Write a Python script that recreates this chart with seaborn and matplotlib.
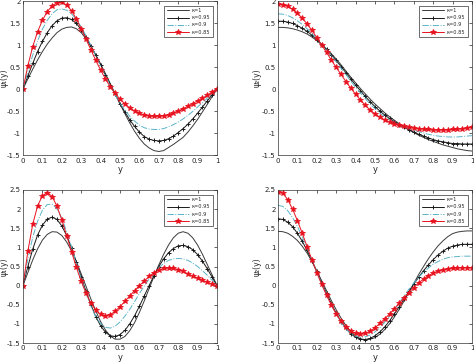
import matplotlib
matplotlib.use("Agg")
import matplotlib.pyplot as plt
import seaborn as sns
from matplotlib.ticker import FormatStrFormatter

# ---------------- data ----------------
Y_GRID = [0, 0.025, 0.05, 0.075, 0.1, 0.125, 0.15, 0.175, 0.2, 0.225,
          0.25, 0.275, 0.3, 0.325, 0.35, 0.375, 0.4, 0.425, 0.45, 0.475,
          0.5, 0.525, 0.55, 0.575, 0.6, 0.625, 0.65, 0.675, 0.7, 0.725,
          0.75, 0.775, 0.8, 0.825, 0.85, 0.875, 0.9, 0.925, 0.95, 0.975, 1]

KAPPA_LABELS = ["κ=1", "κ=0.95", "κ=0.9", "κ=0.85"]

# top-left: psi_1
tl_k100 = [0, 0.23, 0.45, 0.66, 0.85, 1.02, 1.16, 1.28, 1.36, 1.40,
           1.41, 1.37, 1.28, 1.14, 0.97, 0.78, 0.57, 0.35, 0.12, -0.11,
           -0.34, -0.56, -0.77, -0.96, -1.12, -1.25, -1.34, -1.40, -1.42, -1.40,
           -1.33, -1.26, -1.18, -1.10, -0.98, -0.84, -0.69, -0.52, -0.35, -0.17, 0]
tl_k095 = [0, 0.30, 0.58, 0.85, 1.08, 1.28, 1.44, 1.55, 1.61, 1.62,
           1.58, 1.49, 1.35, 1.18, 0.98, 0.77, 0.55, 0.32, 0.10, -0.12,
           -0.33, -0.52, -0.70, -0.85, -0.98, -1.08, -1.14, -1.17, -1.18, -1.17,
           -1.13, -1.07, -0.99, -0.90, -0.80, -0.68, -0.55, -0.41, -0.27, -0.13, 0]
tl_k090 = [0, 0.40, 0.77, 1.09, 1.36, 1.56, 1.71, 1.80, 1.82, 1.79,
           1.71, 1.58, 1.41, 1.21, 0.99, 0.76, 0.53, 0.30, 0.08, -0.13,
           -0.32, -0.48, -0.62, -0.73, -0.82, -0.88, -0.91, -0.92, -0.92, -0.90,
           -0.86, -0.81, -0.75, -0.68, -0.60, -0.51, -0.41, -0.31, -0.21, -0.10, 0]
tl_k085 = [0, 0.53, 0.96, 1.30, 1.56, 1.76, 1.89, 1.96, 1.97, 1.91,
           1.78, 1.59, 1.37, 1.13, 0.89, 0.65, 0.43, 0.23, 0.05, -0.10,
           -0.23, -0.34, -0.43, -0.50, -0.55, -0.59, -0.61, -0.62, -0.62, -0.61,
           -0.58, -0.54, -0.50, -0.45, -0.39, -0.33, -0.27, -0.21, -0.14, -0.07, 0]

# top-right: psi_2
tr_k100 = [1.40, 1.40, 1.39, 1.37, 1.34, 1.30, 1.25, 1.18, 1.10, 1.01,
           0.91, 0.80, 0.68, 0.55, 0.41, 0.27, 0.14, 0.01, -0.11, -0.23,
           -0.34, -0.44, -0.54, -0.63, -0.71, -0.79, -0.86, -0.93, -0.99, -1.05,
           -1.10, -1.15, -1.19, -1.23, -1.27, -1.30, -1.33, -1.36, -1.38, -1.40, -1.41]
tr_k095 = [1.54, 1.54, 1.52, 1.49, 1.44, 1.38, 1.31, 1.22, 1.12, 1.01,
           0.90, 0.78, 0.65, 0.51, 0.37, 0.23, 0.09, -0.04, -0.17, -0.29,
           -0.40, -0.50, -0.59, -0.67, -0.74, -0.81, -0.87, -0.93, -0.98, -1.03,
           -1.07, -1.11, -1.15, -1.18, -1.20, -1.22, -1.24, -1.24, -1.25, -1.25, -1.25]
tr_k090 = [1.71, 1.70, 1.67, 1.62, 1.55, 1.47, 1.37, 1.26, 1.14, 1.02,
           0.90, 0.76, 0.62, 0.47, 0.33, 0.18, 0.04, -0.09, -0.22, -0.34,
           -0.45, -0.55, -0.63, -0.70, -0.76, -0.81, -0.86, -0.90, -0.94, -0.97,
           -1.00, -1.03, -1.05, -1.07, -1.08, -1.09, -1.09, -1.09, -1.08, -1.07, -1.06]
tr_k085 = [1.93, 1.92, 1.88, 1.81, 1.72, 1.61, 1.48, 1.33, 1.17, 1.00,
           0.83, 0.66, 0.49, 0.33, 0.17, 0.02, -0.12, -0.25, -0.37, -0.48,
           -0.57, -0.64, -0.70, -0.75, -0.79, -0.82, -0.85, -0.87, -0.89, -0.90,
           -0.91, -0.92, -0.93, -0.93, -0.93, -0.93, -0.92, -0.91, -0.90, -0.88, -0.87]

# bottom-left: psi_1
bl_k100 = [0, 0.34, 0.67, 0.96, 1.19, 1.34, 1.41, 1.40, 1.31, 1.14,
           0.91, 0.63, 0.31, -0.02, -0.35, -0.66, -0.94, -1.16, -1.32, -1.40,
           -1.40, -1.33, -1.18, -0.97, -0.70, -0.40, -0.08, 0.24, 0.54, 0.82,
           1.06, 1.25, 1.37, 1.41, 1.37, 1.25, 1.06, 0.82, 0.55, 0.28, 0]
bl_k095 = [0, 0.50, 0.95, 1.32, 1.58, 1.74, 1.79, 1.73, 1.56, 1.31,
           0.99, 0.62, 0.23, -0.15, -0.50, -0.81, -1.05, -1.22, -1.31, -1.33,
           -1.28, -1.17, -1.00, -0.79, -0.54, -0.27, 0.00, 0.26, 0.50, 0.70,
           0.86, 0.97, 1.04, 1.05, 1.02, 0.94, 0.81, 0.64, 0.44, 0.22, 0]
bl_k090 = [0, 0.70, 1.26, 1.68, 1.97, 2.12, 2.13, 2.01, 1.76, 1.42,
           1.02, 0.59, 0.17, -0.21, -0.54, -0.81, -0.99, -1.09, -1.11, -1.06,
           -0.95, -0.80, -0.62, -0.42, -0.21, -0.01, 0.17, 0.33, 0.47, 0.58,
           0.66, 0.70, 0.71, 0.70, 0.66, 0.59, 0.50, 0.39, 0.27, 0.14, 0]
bl_k085 = [0, 0.90, 1.60, 2.08, 2.35, 2.43, 2.33, 2.08, 1.72, 1.31,
           0.89, 0.48, 0.11, -0.20, -0.46, -0.64, -0.75, -0.79, -0.76, -0.67,
           -0.55, -0.41, -0.27, -0.13, 0.00, 0.12, 0.24, 0.34, 0.41, 0.45,
           0.46, 0.45, 0.42, 0.37, 0.31, 0.25, 0.19, 0.14, 0.09, 0.04, 0]

# bottom-right: psi_2
br_k100 = [1.42, 1.41, 1.37, 1.29, 1.18, 1.03, 0.85, 0.63, 0.39, 0.13,
           -0.13, -0.39, -0.63, -0.85, -1.04, -1.20, -1.32, -1.39, -1.42, -1.40,
           -1.36, -1.27, -1.15, -1.00, -0.82, -0.62, -0.40, -0.17, 0.06, 0.29,
           0.50, 0.70, 0.88, 1.04, 1.17, 1.28, 1.36, 1.40, 1.42, 1.43, 1.43]
br_k095 = [1.75, 1.73, 1.66, 1.54, 1.37, 1.16, 0.92, 0.65, 0.37, 0.08,
           -0.20, -0.47, -0.72, -0.94, -1.12, -1.26, -1.35, -1.40, -1.41, -1.38,
           -1.31, -1.21, -1.08, -0.92, -0.74, -0.55, -0.35, -0.15, 0.04, 0.22,
           0.39, 0.54, 0.68, 0.80, 0.90, 0.98, 1.03, 1.06, 1.08, 1.08, 1.08]
br_k090 = [2.10, 2.07, 1.96, 1.78, 1.55, 1.28, 0.98, 0.67, 0.36, 0.05,
           -0.24, -0.51, -0.75, -0.96, -1.13, -1.25, -1.32, -1.35, -1.34, -1.29,
           -1.21, -1.10, -0.96, -0.80, -0.63, -0.45, -0.27, -0.09, 0.07, 0.22,
           0.35, 0.46, 0.56, 0.63, 0.69, 0.73, 0.75, 0.76, 0.77, 0.77, 0.77]
br_k085 = [2.46, 2.41, 2.25, 2.00, 1.70, 1.37, 1.02, 0.67, 0.34, 0.03,
           -0.25, -0.51, -0.74, -0.93, -1.08, -1.19, -1.25, -1.27, -1.25, -1.19,
           -1.10, -0.99, -0.87, -0.74, -0.60, -0.46, -0.32, -0.18, -0.05, 0.07,
           0.17, 0.26, 0.33, 0.38, 0.42, 0.44, 0.46, 0.47, 0.47, 0.47, 0.47]

PANELS = [
    ("ψ₁(y)", (-1.5, 2.0), [tl_k100, tl_k095, tl_k090, tl_k085]),
    ("ψ₂(y)", (-1.5, 2.0), [tr_k100, tr_k095, tr_k090, tr_k085]),
    ("ψ₁(y)", (-1.5, 2.5), [bl_k100, bl_k095, bl_k090, bl_k085]),
    ("ψ₂(y)", (-1.5, 2.5), [br_k100, br_k095, br_k090, br_k085]),
]

# ---------------- style ----------------
sns.set_theme(style="white")
plt.rcParams["font.family"] = ["DejaVu Sans"]
plt.rcParams["axes.unicode_minus"] = False

STYLES = [
    dict(color="#3a3a3a", linestyle="-", linewidth=0.7),
    dict(color="#1a1a1a", linestyle="-", linewidth=0.7, marker="+",
         markersize=3.5, markeredgewidth=0.7, markeredgecolor="#1a1a1a"),
    dict(color="#5ab4c8", linestyle="-.", linewidth=0.7),
    dict(color="#e8121e", linestyle="-", linewidth=0.7, marker="*",
         markersize=4.2, markeredgewidth=0.6, markeredgecolor="#e8121e"),
]

W, H = 474, 362
fig = plt.figure(figsize=(W / 100, H / 100), dpi=100)

boxes = [
    (23, 1, 194, 154),
    (278, 1, 194, 154),
    (23, 190, 194, 153),
    (278, 190, 194, 153),
]
ylabel_x = [9, 262, 9, 262]

for (ylab, ylim, series), (px, py, pw, ph), lx in zip(PANELS, boxes, ylabel_x):
    ax = fig.add_axes([px / W, 1 - (py + ph) / H, pw / W, ph / H])
    for vals, lab, st in zip(series, KAPPA_LABELS, STYLES):
        sns.lineplot(x=Y_GRID, y=vals, ax=ax, label=lab, **st)
    ax.set_xlim(0, 1)
    ax.set_ylim(*ylim)
    ax.set_xticks([i / 10 for i in range(11)])
    yt = []
    v = ylim[0]
    while v <= ylim[1] + 1e-9:
        yt.append(v)
        v += 0.5
    ax.set_yticks(yt)
    ax.xaxis.set_major_formatter(FormatStrFormatter("%g"))
    ax.yaxis.set_major_formatter(FormatStrFormatter("%g"))
    ax.tick_params(direction="in", top=True, right=True, length=2.2,
                   width=0.5, labelsize=5, pad=1.8, colors="#222222")
    for sp in ax.spines.values():
        sp.set_linewidth(0.5)
        sp.set_color("#333333")
    ax.set_xlabel("y", fontsize=6, labelpad=1)
    ax.set_ylabel(ylab, fontsize=5.5)
    ax.yaxis.set_label_coords((lx - px) / pw, 0.5)
    leg = ax.legend(loc="upper right", fontsize=3.6, frameon=True,
                    fancybox=False, framealpha=1, edgecolor="#333333",
                    handlelength=4.5, labelspacing=0.45, borderpad=0.5,
                    borderaxespad=0.9, handletextpad=0.5)
    leg.get_frame().set_linewidth(0.5)

fig.savefig("out.png", dpi=100)
